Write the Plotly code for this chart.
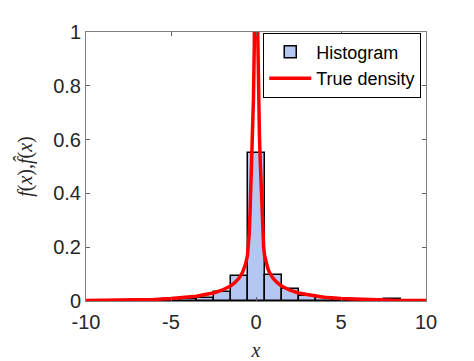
import plotly.graph_objects as go

# Histogram (bin centres, heights)
bin_centers = [-9, -8, -7, -6, -5, -4, -3, -2, -1, 0, 1, 2, 3, 4, 5, 6, 7, 8, 9]
bin_heights = [0.0, 0.0, 0.002, 0.004, 0.006, 0.009, 0.011, 0.035, 0.092, 0.55,
               0.097, 0.045, 0.017, 0.010, 0.008, 0.004, 0.002, 0.006, 0.0]

# True density curve
dens_x = [-10, -8, -7, -6, -5, -4, -3.5, -3, -2.5, -2, -1.5, -1.25, -1.0, -0.8, -0.7,
          -0.6, -0.5, -0.45, -0.4, -0.35, -0.3, -0.25, -0.2, -0.15, -0.1, -0.05, -0.02, 0.0,
          0.02, 0.05, 0.1, 0.15, 0.2, 0.25, 0.3, 0.35, 0.4, 0.45, 0.5, 0.6, 0.7, 0.8,
          1.0, 1.25, 1.5, 2, 2.5, 3, 3.5, 4, 5, 6, 7, 8, 10]
dens_y = [0.002, 0.003, 0.004, 0.006, 0.009, 0.014, 0.018, 0.024, 0.030, 0.040, 0.056, 0.068,
          0.085, 0.105, 0.12, 0.14, 0.17, 0.20, 0.25, 0.33, 0.42, 0.52, 0.62, 0.75, 0.95,
          1.2, 1.6, 2.5,
          1.6, 1.2, 0.95, 0.75, 0.62, 0.52, 0.42, 0.33, 0.25, 0.20, 0.17, 0.14, 0.12, 0.105,
          0.085, 0.068, 0.056, 0.040, 0.030, 0.024, 0.018, 0.014, 0.009, 0.006, 0.004, 0.003, 0.002]

x_ticks = [-10, -5, 0, 5, 10]
y_ticks = [0, 0.2, 0.4, 0.6, 0.8, 1]

fig = go.Figure()
fig.add_trace(go.Bar(
    x=bin_centers, y=bin_heights, width=1, name="Histogram",
    marker=dict(color="#b4c7f3", line=dict(color="black", width=1.5)),
))
fig.add_trace(go.Scatter(
    x=dens_x, y=dens_y, mode="lines", name="True density",
    line=dict(color="#ff0000", width=3.5),
))

axis_common = dict(
    showgrid=False, zeroline=False, showline=True, linecolor="#808080", linewidth=1,
    mirror="ticks", ticks="inside", ticklen=4, tickcolor="#606060", automargin=False,
    tickfont=dict(family="Liberation Sans, Arial, sans-serif", size=20, color="#262626"),
)

# the page body has an 8px margin, so the figure is offset by 8px
fig.update_layout(
    width=466, height=353,
    margin=dict(l=78, r=48, t=24, b=60, autoexpand=False),
    paper_bgcolor="white", plot_bgcolor="white",
    bargap=0,
    showlegend=True,
    legend=dict(
        x=0.986, y=0.998, xanchor="right", yanchor="top",
        bgcolor="white", bordercolor="black", borderwidth=1,
        font=dict(family="Liberation Sans, Arial, sans-serif", size=18, color="black"),
        tracegroupgap=0, itemwidth=42,
    ),
    xaxis=dict(range=[-10, 10], tickvals=x_ticks, ticktext=[str(v) for v in x_ticks],
               ticklabelstandoff=3,
               title=dict(text="<i>x</i>", font=dict(family="Liberation Serif, serif", size=20, color="#262626")),
               **axis_common),
    yaxis=dict(range=[0, 1], tickvals=y_ticks, ticktext=["0", "0.2", "0.4", "0.6", "0.8", "1"],
               title=dict(text="<i>f</i>(<i>x</i>),<i>f̂</i>(<i>x</i>)",
                          font=dict(family="Liberation Serif, serif", size=20, color="#262626")),
               **axis_common),
)

fig.write_html("out.html")
